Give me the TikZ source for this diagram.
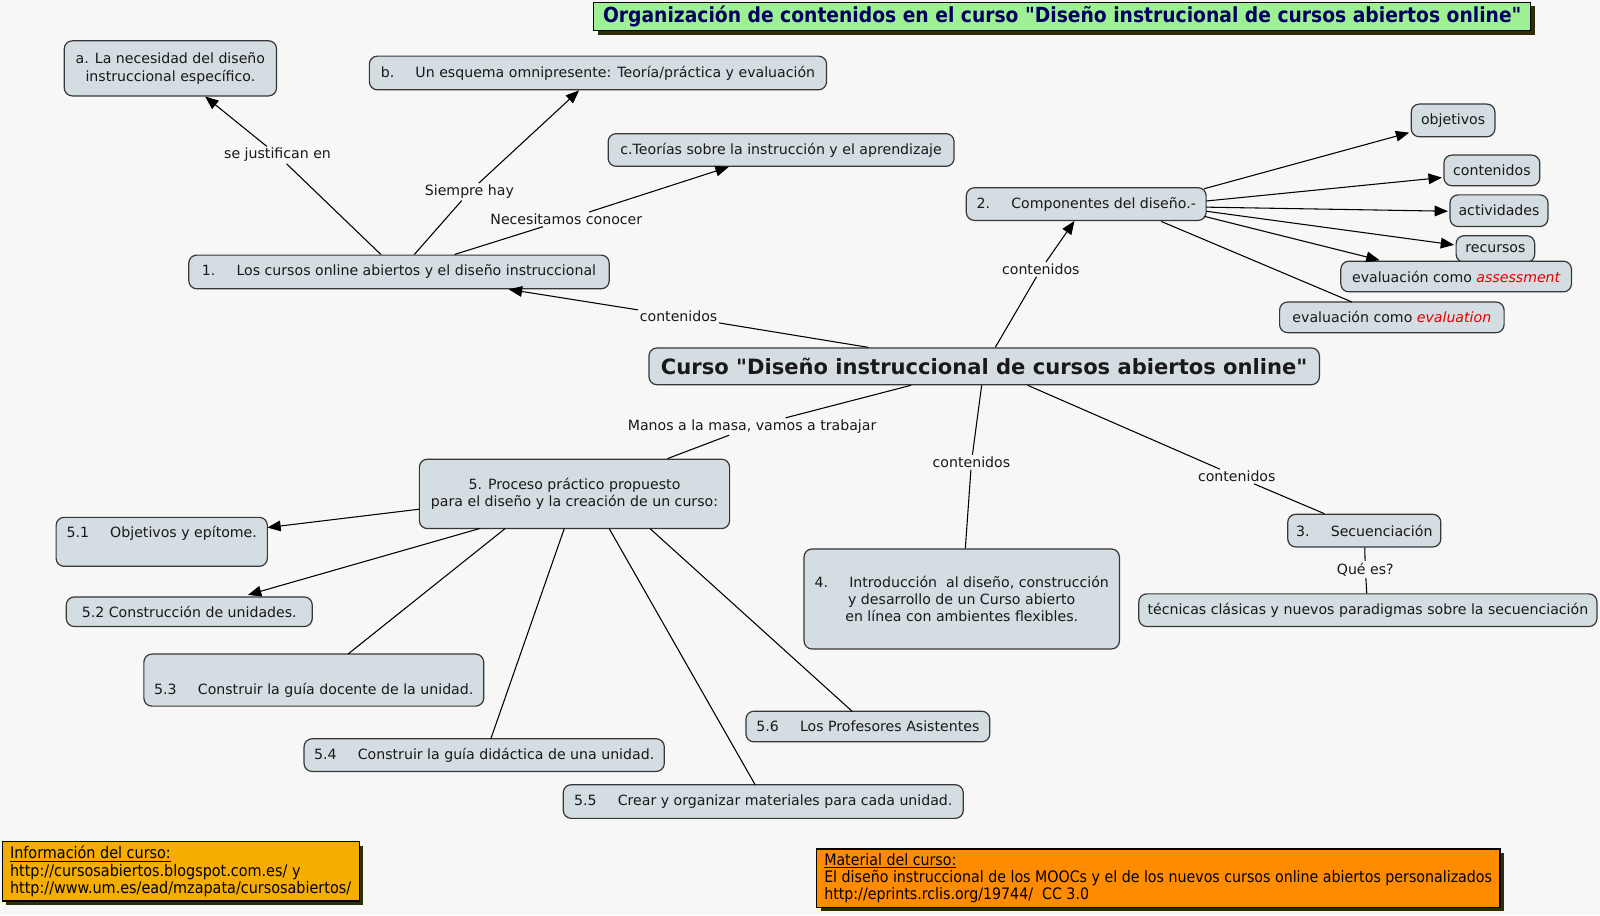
\documentclass[tikz,border=0pt]{standalone}
\usepackage{fontspec}
\setmainfont{DejaVu Sans}[Ligatures=TeXOff]
\newfontfamily\condfont{DejaVu Sans Condensed}[BoldFont={DejaVu Sans Condensed Bold},Ligatures=TeXOff]
\usetikzlibrary{arrows.meta,shadows}
\definecolor{bgc}{RGB}{247,247,247}
\definecolor{boxfill}{RGB}{212,221,225}
\definecolor{boxdraw}{RGB}{55,55,55}
\definecolor{txt}{RGB}{25,25,25}
\definecolor{titlefill}{RGB}{158,240,148}
\definecolor{navy}{RGB}{0,0,95}
\definecolor{infofill}{RGB}{245,174,0}
\definecolor{matfill}{RGB}{255,140,0}
\definecolor{shadowc}{RGB}{45,45,12}
\definecolor{redt}{RGB}{230,0,0}
\def\pxu{0.7653pt}
\tikzset{
  sz/.style 2 args={minimum width=#1*\pxu, minimum height=#2*\pxu},
  box/.style={draw=boxdraw, fill=boxfill, line width=0.9pt, rounded corners=6pt,
    inner xsep=4pt, inner ysep=3pt, align=center, text=txt,
    font=\fontsize{10.6}{13}\selectfont},
  lab/.style={inner sep=1.2pt, text=txt, font=\fontsize{10.6}{13}\selectfont},
  conn/.style={draw=black, line width=0.8pt},
  arr/.style={conn, -{Triangle[length=10pt,width=8pt]}},
  sbox/.style={draw=black, line width=0.8pt, inner sep=3pt,
    drop shadow={shadow xshift=3.2pt, shadow yshift=-3.2pt, fill=shadowc, opacity=1}},
}
\newcommand{\tb}{\hspace{1.5em}}
\begin{document}
\begin{tikzpicture}[x=0.7653pt, y=-0.7653pt]
\fill[bgc] (0,0) rectangle (1568,897);
\useasboundingbox (0,0) rectangle (1568,897);

% title
\node[sbox, fill=titlefill, sz={918}{28}, text=navy, inner sep=1pt, font=\condfont\bfseries\fontsize{15.6}{17}\selectfont] (title) at (1041,16)
  {Organización de contenidos en el curso "Diseño instrucional de cursos abiertos online"};

% upper boxes
\node[box, sz={208}{54}] (a) at (167,67) {a. La necesidad del diseño\\instruccional específico.};
\node[box, sz={448}{33}] (b) at (586,71.5) {b.\tb Un esquema omnipresente: Teoría/práctica y evaluación};
\node[box, sz={339}{32}] (c) at (765.5,147) {c.Teorías sobre la instrucción y el aprendizaje};
\node[box, sz={412}{33}] (one) at (391,266.5) {1.\tb Los cursos online abiertos y el diseño instruccional};
\node[box, sz={235}{32}] (two) at (1064.5,200) {2.\tb Componentes del diseño.-};
\node[box, sz={82}{32}] (obj) at (1424,118) {objetivos};
\node[box, sz={94}{30}] (cont) at (1462,167) {contenidos};
\node[box, sz={96}{31}] (act) at (1469,206.5) {actividades};
\node[box, sz={77}{26}] (rec) at (1465.5,244) {recursos};
\node[box, sz={226}{30}] (ass) at (1427,271) {evaluación como \textcolor{redt}{\itshape assessment}};
\node[box, sz={220}{30}] (eva) at (1364,311) {evaluación como \textcolor{redt}{\itshape evaluation}};

% central
\node[box, sz={657}{36}, font=\bfseries\fontsize{15.8}{18}\selectfont] (cen) at (964.5,359)
  {Curso "Diseño instruccional de cursos abiertos online"};

% lower boxes
\node[box, sz={304}{68}] (five) at (563,484) {5. Proceso práctico propuesto\\para el diseño y la creación de un curso:};
\node[box, sz={207}{48}, text height=12.3pt, text depth=18.4pt] (f1) at (158.5,531) {5.1\tb Objetivos y epítome.};
\node[box, sz={241}{29}] (f2) at (185.5,599.5) {5.2 Construcción de unidades.};
\node[box, sz={333}{51}, text height=27.6pt, text depth=5.4pt] (f3) at (307.5,666.5) {5.3\tb Construir la guía docente de la unidad.};
\node[box, sz={353}{32}] (f4) at (474.5,740) {5.4\tb Construir la guía didáctica de una unidad.};
\node[box, sz={392}{33}] (f5) at (748,785.5) {5.5\tb Crear y organizar materiales para cada unidad.};
\node[box, sz={239}{30}] (f6) at (850.5,712) {5.6\tb Los Profesores Asistentes};
\node[box, sz={309}{98}] (four) at (942.5,587) {4.\tb Introducción\ \ al diseño, construcción\\y desarrollo de un Curso abierto\\en línea con ambientes flexibles.};
\node[box, sz={150}{32}] (three) at (1337,520) {3.\tb Secuenciación};
\node[box, sz={449}{32}] (tec) at (1340.5,598) {técnicas clásicas y nuevos paradigmas sobre la secuenciación};

% info boxes
\node[sbox, fill=infofill, sz={350}{58}, align=left, text=black, inner xsep=2pt,
  font=\condfont\fontsize{12}{13}\selectfont] (info) at (177,854)
  {\underline{Información del curso:}\\http://cursosabiertos.blogspot.com.es/ y\\http://www.um.es/ead/mzapata/cursosabiertos/};
\node[sbox, fill=matfill, sz={670}{57}, align=left, text=black, inner xsep=3pt,
  font=\condfont\fontsize{11.85}{13}\selectfont] (mat) at (1135,860.5)
  {\underline{Material del curso:}\\El diseño instruccional de los MOOCs y el de los nuevos cursos online abiertos personalizados\\http://eprints.rclis.org/19744/\ \ CC 3.0};

% labels
\node[lab] (l1) at (272,152) {se justifican en};
\node[lab] (l2) at (460,188) {Siempre hay};
\node[lab] (l3) at (555,215) {Necesitamos conocer};
\node[lab] (l4) at (665,310) {contenidos};
\node[lab] (l5) at (1020,264) {contenidos};
\node[lab] (l6) at (737,418) {Manos a la masa, vamos a trabajar};
\node[lab] (l7) at (952,453) {contenidos};
\node[lab] (l8) at (1212,467) {contenidos};
\node[lab] (l9) at (1338,558) {Qué es?};

% connectors
\draw[conn] (one) -- (l1); \draw[arr] (l1) -- (a);
\draw[conn] (one) -- (l2); \draw[arr] (l2) -- (b);
\draw[conn] (one) -- (l3); \draw[arr] (l3) -- (c);
\draw[conn] (cen) -- (l4); \draw[arr] (l4) -- (one);
\draw[conn] (cen) -- (l5); \draw[arr] (l5) -- (two);
\draw[conn] (cen) -- (l6); \draw[conn] (l6) -- (five);
\draw[conn] (cen) -- (l7); \draw[conn] (l7) -- (four);
\draw[conn] (cen) -- (l8); \draw[conn] (l8) -- (three);
\draw[conn] (three) -- (l9); \draw[conn] (l9) -- (tec);

\draw[arr] ([shift={(115.5,-15)}]two.center) -- ([shift={(-43,12)}]obj.center);
\draw[arr] ([shift={(117.5,-3)}]two.center) -- ([shift={(-49,7)}]cont.center);
\draw[arr] ([shift={(117.5,3)}]two.center) -- ([shift={(-50,0.5)}]act.center);
\draw[arr] ([shift={(117.5,7)}]two.center) -- ([shift={(-40.5,-4)}]rec.center);
\draw[arr] ([shift={(115.5,12)}]two.center) -- ([shift={(-75,-16)}]ass.center);
\draw[conn] ([shift={(73.5,17)}]two.center) -- ([shift={(-39,-15)}]eva.center);

\draw[arr] ([shift={(-152,15)}]five.center) -- ([shift={(103.5,-14)}]f1.center);
\draw[arr] ([shift={(-93,34)}]five.center) -- ([shift={(57.5,-16.5)}]f2.center);
\draw[conn] ([shift={(-68,34)}]five.center) -- ([shift={(33.5,-25.5)}]f3.center);
\draw[conn] ([shift={(-10,34)}]five.center) -- ([shift={(6.5,-16)}]f4.center);
\draw[conn] ([shift={(34,34)}]five.center) -- ([shift={(-8,-16.5)}]f5.center);
\draw[conn] ([shift={(74,34)}]five.center) -- ([shift={(-15.5,-15)}]f6.center);
\end{tikzpicture}
\end{document}
